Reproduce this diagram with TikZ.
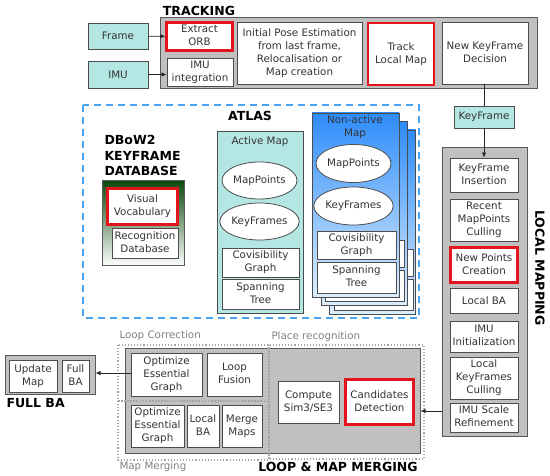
\documentclass[tikz,border=0pt]{standalone}
\usepackage{fontspec}
\setmainfont{DejaVu Sans}
\usepackage{tikz}
\usetikzlibrary{positioning,shapes.geometric,arrows.meta}
\setlength{\tabcolsep}{0pt}
\definecolor{kfcyan}{HTML}{B4E6E4}
\definecolor{grpgray}{HTML}{C0C0C0}
\definecolor{hotred}{HTML}{E3141B}
\definecolor{atlasblue}{HTML}{4AA3F0}
\definecolor{nablue}{HTML}{2E8CFA}
\definecolor{nalight}{HTML}{DCEEFF}
\definecolor{dbgreen}{HTML}{0C4A0E}

\begin{document}
\begin{tikzpicture}[x=1pt, y=-1pt, text=black!80,
              font=\fontsize{10.3}{13}\selectfont,
              box/.style = {draw=black!70, line width=0.8pt, fill=white, inner sep=1pt},
              hot/.style = {box, draw=hotred, line width=2.2pt},
              inp/.style = {box, fill=kfcyan},
              grp/.style = {draw=black!65, line width=1pt, fill=grpgray},
              ell/.style = {ellipse, draw=black!70, line width=0.8pt, fill=white, inner sep=0pt},
              namap/.style = {draw=black!70, line width=0.8pt, top color=nablue, bottom color=nalight},
              ttl/.style = {font=\bfseries\fontsize{12.5}{15.5}\selectfont, text=black},
              sub/.style = {text=black!50, anchor=west},
              dots/.style = {draw=black!35, dotted, line width=1.1pt},
              arr/.style = {-{Latex[length=5pt,width=4.5pt]}, line width=0.8pt, draw=black!85}]
\useasboundingbox (0,0) rectangle (550,476);

% tracking
\node[ttl] (trkt) at (199,11) {TRACKING};
\node[inp, minimum width=60, minimum height=26] (frame) at (118,36) {Frame};
\node[inp, minimum width=60, minimum height=27] (imu) at (118,74.5) {IMU};
\node[grp, minimum width=377, minimum height=71] (trk) at (348.5,53.5) {};
\node[hot, minimum width=66, minimum height=28] (orb) at (199.5,36.5) {\begin{tabular}{c}Extract\\ ORB\end{tabular}};
\node[box, minimum width=66, minimum height=26] (imuint) at (200,72) {\begin{tabular}{c}IMU\\ integration\end{tabular}};
\node[box, minimum width=125, minimum height=62] (pose) at (299.5,53) {\begin{tabular}{c}Initial Pose Estimation\\ from last frame,\\ Relocalisation or\\ Map creation\end{tabular}};
\node[hot, minimum width=66, minimum height=62] (tlm) at (401,54) {\begin{tabular}{c}Track\\ Local Map\end{tabular}};
\node[box, minimum width=86, minimum height=62] (nkd) at (485,53) {\begin{tabular}{c}New KeyFrame\\ Decision\end{tabular}};
\draw[arr] (frame) -- (orb);
\draw[arr] (imu) -- (imuint.west |- imu);

% keyframe
\node[inp, minimum width=60, minimum height=22] (kf) at (484,117) {KeyFrame};
\draw[line width=0.8pt, black!85] (nkd.south -| kf) -- (kf);

% atlas
\draw[atlasblue, line width=1.8pt, dash pattern=on 7pt off 5pt] (83,105) rectangle (419,318);
\node[ttl] (atlt) at (250,116) {ATLAS};

% dbow2
\node[ttl, anchor=west] (dbt) at (101,157) {\begin{tabular}{l}DBoW2\\ KEYFRAME\\ DATABASE\end{tabular}};
\node[draw=black!65, line width=1pt, top color=dbgreen, middle color=dbgreen!15, bottom color=white,
      minimum width=82, minimum height=85] (db) at (143,223.5) {};
\node[hot, minimum width=70, minimum height=36] (voc) at (142.5,206.5) {\begin{tabular}{c}Visual\\ Vocabulary\end{tabular}};
\node[box, minimum width=66, minimum height=30] (recdb) at (145,243) {\begin{tabular}{c}Recognition\\ Database\end{tabular}};

% active map
\node[draw=black!70, line width=0.8pt, fill=kfcyan, minimum width=86, minimum height=182] (am) at (260,222) {};
\node (amt) at (260,141.5) {Active Map};
\node[ell, minimum width=75, minimum height=37] (amp) at (259.5,180.5) {MapPoints};
\node[ell, minimum width=75, minimum height=37] (akf) at (259.5,221.5) {KeyFrames};
\node[box, minimum width=77, minimum height=29] (acov) at (260.5,262.5) {\begin{tabular}{c}Covisibility\\ Graph\end{tabular}};
\node[box, minimum width=77, minimum height=30] (aspan) at (260.5,294) {\begin{tabular}{c}Spanning\\ Tree\end{tabular}};

% non-active maps
\foreach \o/\n in {17/3, 8.5/2} {
  \node[namap, minimum width=86, minimum height=184] (nam\n) at (355.5+\o,205+\o) {};
  \node[box, minimum width=79, minimum height=27] (ncov\n) at (356.5+\o,245.5+\o) {};
  \node[box, minimum width=79, minimum height=31] (nspan\n) at (356.5+\o,277.5+\o) {};
}
\node[namap, minimum width=87, minimum height=184] (nam) at (355.5,205) {};
\node (namt) at (355,127) {\begin{tabular}{c}Non-active\\ Map\end{tabular}};
\node[ell, minimum width=75, minimum height=38] (nmp) at (353.5,163.5) {MapPoints};
\node[ell, minimum width=75, minimum height=38] (nkf) at (353.5,206) {KeyFrames};
\node[box, minimum width=79, minimum height=27] (ncov) at (356.5,245.5) {\begin{tabular}{c}Covisibility\\ Graph\end{tabular}};
\node[box, minimum width=79, minimum height=31] (nspan) at (356.5,277.5) {\begin{tabular}{c}Spanning\\ Tree\end{tabular}};

% local mapping
\node[grp, minimum width=85, minimum height=289] (lm) at (484.5,292.5) {};
\node[ttl, rotate=-90] (lmt) at (540,268) {LOCAL MAPPING};
\node[box, minimum width=68, minimum height=34] (kfi) at (484,175) {\begin{tabular}{c}KeyFrame\\ Insertion\end{tabular}};
\node[box, minimum width=68, minimum height=42] (mpc) at (484,220) {\begin{tabular}{c}Recent\\ MapPoints\\ Culling\end{tabular}};
\node[hot, minimum width=67, minimum height=35] (npc) at (484,265) {\begin{tabular}{c}New Points\\ Creation\end{tabular}};
\node[box, minimum width=68, minimum height=25] (lba) at (484,300.5) {Local BA};
\node[box, minimum width=68, minimum height=31] (imui) at (484,336.5) {\begin{tabular}{c}IMU\\ Initialization\end{tabular}};
\node[box, minimum width=68, minimum height=42] (kfc) at (484,378) {\begin{tabular}{c}Local\\ KeyFrames\\ Culling\end{tabular}};
\node[box, minimum width=68, minimum height=29] (isr) at (484,417.5) {\begin{tabular}{c}IMU Scale\\ Refinement\end{tabular}};
\draw[arr] (kf) -- (kfi);

% loop and map merging
\node[grp, minimum width=295, minimum height=105] (lmm) at (272.5,401.5) {};
\draw[dots] (118,345) rectangle (269,401);
\draw[dots] (118,401) rectangle (269,460);
\draw[dots] (269,345) rectangle (424,459);
\node[sub] (lct) at (116,336) {Loop Correction};
\node[sub] (prt) at (268,337) {Place recognition};
\node[sub] (mmt) at (116,467) {Map Merging};
\node[ttl] (lmmt) at (338,467) {LOOP \& MAP MERGING};
\node[box, minimum width=71, minimum height=43] (oeg) at (166.5,374.5) {\begin{tabular}{c}Optimize\\ Essential\\ Graph\end{tabular}};
\node[box, minimum width=55, minimum height=43] (lf) at (234.5,374.5) {\begin{tabular}{c}Loop\\ Fusion\end{tabular}};
\node[box, minimum width=53, minimum height=42] (oegm) at (157.5,426) {\begin{tabular}{c}Optimize\\ Essential\\ Graph\end{tabular}};
\node[box, minimum width=32, minimum height=42] (mlba) at (203,426) {\begin{tabular}{c}Local\\ BA\end{tabular}};
\node[box, minimum width=40, minimum height=42] (mm) at (242,426) {\begin{tabular}{c}Merge\\ Maps\end{tabular}};
\node[box, minimum width=61, minimum height=42] (sim3) at (308.5,402) {\begin{tabular}{c}Compute\\ Sim3/SE3\end{tabular}};
\node[hot, minimum width=68, minimum height=45] (cand) at (379.5,402) {\begin{tabular}{c}Candidates\\ Detection\end{tabular}};
\draw[arr] (lm.west |- 0,411) -- (lmm.east |- 0,411);

% full ba
\node[grp, minimum width=90, minimum height=39] (fba) at (50,375.5) {};
\node[box, minimum width=48, minimum height=32] (upd) at (33,376) {\begin{tabular}{c}Update\\ Map\end{tabular}};
\node[box, minimum width=27, minimum height=32] (fullba) at (75.5,376) {\begin{tabular}{c}Full\\ BA\end{tabular}};
\node[ttl, anchor=west] (fbat) at (3,403) {FULL BA};
\draw[arr] (oeg.west |- 0,373) -- (fba.east |- 0,373);
\end{tikzpicture}
\end{document}
